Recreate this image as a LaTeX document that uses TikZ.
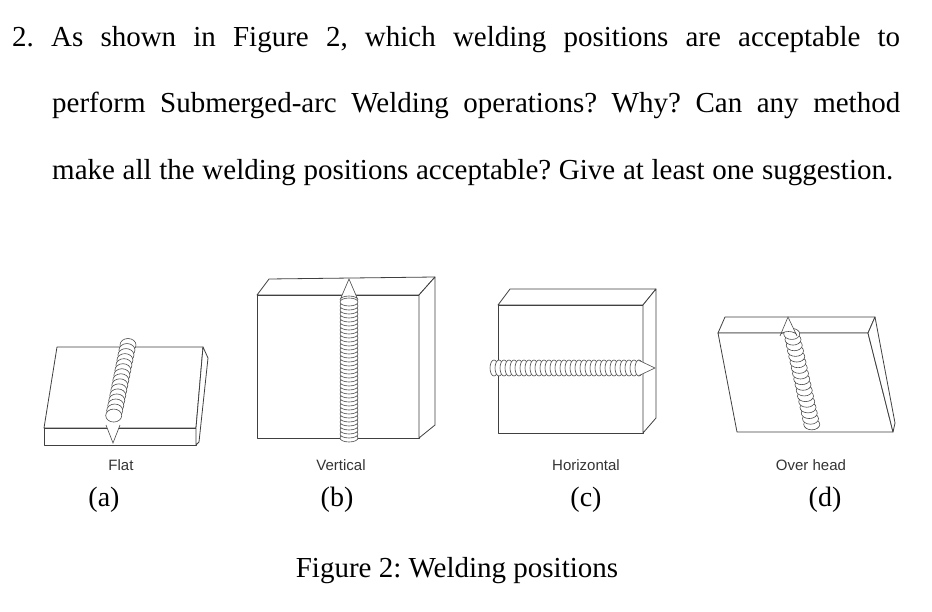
\documentclass[tikz,border=0pt]{standalone}
\usepackage{fontspec}
\setmainfont{Liberation Serif}
\newfontfamily\lab{Liberation Sans}
\frenchspacing
\begin{document}
\begin{tikzpicture}[x=1pt,y=-1pt,
  plate/.style={draw=black!75,line width=0.8pt,fill=white,line join=round},
  bead/.style={draw=black!70,line width=0.6pt,fill=white},
  lbl/.style={font=\lab\fontsize{15}{17}\selectfont,text=black!80},
  sub/.style={font=\fontsize{28}{32}\selectfont},
  q/.style={font=\fontsize{29}{34}\selectfont,anchor=base west,inner sep=0}]
\useasboundingbox (0,0) rectangle (932,612);
% question
\node[q] (l1) at (12,47) {\makebox[888pt][s]{2. As shown in Figure 2, which welding positions are acceptable to}};
\node[q] (l2) at (52,113) {\makebox[848pt][s]{perform Submerged-arc Welding operations? Why? Can any method}};
\node[q] (l3) at (52,180) {\makebox[841pt][s]{make all the welding positions acceptable? Give at least one suggestion.}};
% (a) Flat
\draw[plate] (57,347) -- (203,347) -- (196,428) -- (44,428) -- cycle;
\draw[plate] (44,428) rectangle (196,445);
\draw[plate] (203,347) -- (208,358) -- (199,442) -- (196,445) -- (196,428) -- cycle;
\foreach \t in {0,0.06,...,0.85} \draw[bead] ({128-17*\t},{345+84*\t}) ellipse (8 and 6.5);
\draw[bead] (106,425) -- (113,443) -- (120,425);
% (b) Vertical
\draw[plate] (269,279) -- (435,277) -- (419,295) -- (257,295) -- cycle;
\draw[plate] (257,295) rectangle (419,438);
\draw[plate] (419,295) -- (435,277) -- (435,425) -- (419,438) -- cycle;
\foreach \y in {438,434,...,300} \draw[bead] (349,\y) ellipse (9 and 4);
\draw[bead] (340,300) -- (349,279) -- (358,300) arc (0:-180:9 and 4);
% (c) Horizontal
\draw[plate] (510,289) -- (656,289) -- (643,305) -- (498,305) -- cycle;
\draw[plate] (498,305) rectangle (643,433);
\draw[plate] (643,305) -- (656,289) -- (656,418) -- (643,433) -- cycle;
\foreach \x in {494,499,...,640} \draw[bead] (\x,368) ellipse (4 and 8);
\draw[bead] (638,360) -- (655,368) -- (638,376);
% (d) Over head
\draw[plate] (725,317) -- (875,317) -- (868,333) -- (718,333) -- cycle;
\draw[plate] (718,333) -- (868,333) -- (893,432) -- (737,432) -- cycle;
\draw[plate] (868,333) -- (875,317) -- (895,423) -- (893,432) -- cycle;
\foreach \t in {0.95,0.9,...,0.14} \draw[bead] ({788+25*\t},{317+113*\t}) ellipse (8 and 5.5);
\draw[bead] (780,336) -- (788,317) -- (797,336) arc (0:-180:8.5 and 4.5);
% labels
\node[lbl] (fa) at (121,465) {Flat};
\node[lbl] (fb) at (341,465) {Vertical};
\node[lbl] (fc) at (586,465) {Horizontal};
\node[lbl] (fd) at (811,465) {Over head};
\node[sub] (sa) at (104,500) {(a)};
\node[sub] (sb) at (337,500) {(b)};
\node[sub] (sc) at (586,500) {(c)};
\node[sub] (sd) at (825,500) {(d)};
\node[font=\fontsize{29}{34}\selectfont] (cap) at (457,571) {Figure 2: Welding positions};
\end{tikzpicture}
\end{document}
